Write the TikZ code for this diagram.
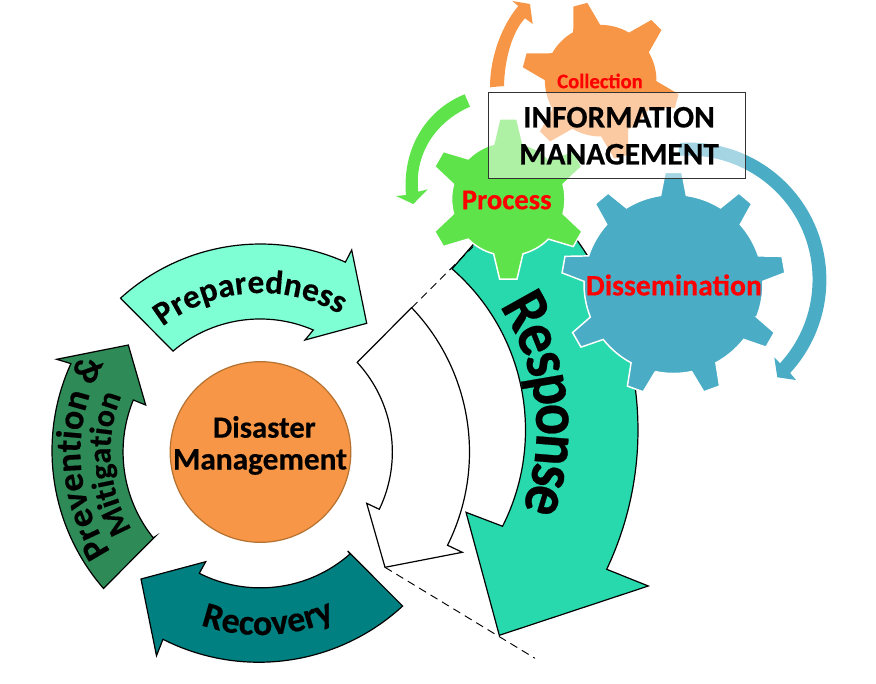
\documentclass[tikz,border=0pt]{standalone}
\usepackage{fontspec}
\setmainfont{Carlito}[BoldFeatures={FakeBold=0.4}]
\usetikzlibrary{decorations.text}
\definecolor{cPrep}{HTML}{7FFFD4}
\definecolor{cPrev}{HTML}{2E8B57}
\definecolor{cReco}{HTML}{008080}
\definecolor{cResp}{HTML}{29D9AE}
\definecolor{cOrange}{HTML}{F79646}
\definecolor{cGreen}{HTML}{5FE34A}
\definecolor{cBlue}{HTML}{4BACC6}
\definecolor{cRim}{HTML}{B5712F}
\tikzset{
  band/.style={draw=black,line width=0.9pt,line join=miter},
  gearshape/.style={draw=white,line width=1.1pt,line join=miter},
  guide/.style={draw=black,line width=0.7pt,dash pattern=on 6pt off 4pt},
  curvelabel/.style={font=\bfseries\fontsize{#1}{#1}\selectfont,text=black,inner sep=0pt},
  redlabel/.style={font=\bfseries\fontsize{#1}{#1}\selectfont,text=red,inner sep=0pt},
}
\newcommand{\prepfont}{\bfseries\fontsize{25}{28}\selectfont}
\newcommand{\recofont}{\bfseries\fontsize{27}{30}\selectfont}
\newcommand{\prevfont}{\bfseries\fontsize{27}{30}\selectfont}
\newcommand{\mitifont}{\bfseries\fontsize{24}{28}\selectfont}
\newcommand{\gearpath}[7]{% R, tip R, base half angle, tip half angle, step, first tooth, last index
  ({#6-#3}:#1) \foreach \i in {0,...,#7} {
    -- ({#6+\i*#5-#3}:#1) -- ({#6+\i*#5-#4}:#2) -- ({#6+\i*#5+#4}:#2) -- ({#6+\i*#5+#3}:#1)
    arc[start angle={#6+\i*#5+#3},end angle={#6+\i*#5+#5-#3},radius=#1]
  } -- cycle}
\newcommand{\respletter}[3]{\node[curvelabel=44,anchor=base,rotate={-(#1+90)},yscale=1.12] (#2) at (#1:224.5) {#3};}
\begin{document}
\begin{tikzpicture}[x=0.75pt,y=-0.75pt]
\useasboundingbox (0,0) rectangle (876,683);
\coordinate (dashA) at (411.7,307.7);
\coordinate (dashB) at (473,246.7);
\coordinate (dashC) at (385,567.3);
\coordinate (dashD) at (535,658.3);

% Response band
\begin{scope}[shift={(312,430)}]
\draw[band,fill=cResp] (-49:213.5) arc[start angle=-49,end angle=26.8,radius=213.5]
  -- (154,82.3) -- (187.3,205.3) -- (336.3,156) -- (294.7,139.3)
  arc[start angle=25.3,end angle=-49,radius=326] -- cycle;
\end{scope}

% ring around the centre
\begin{scope}[shift={(260.5,452)}]
\draw[band,fill=cPrep] (-132.3:208) arc[start angle=-132.3,end angle=-65.9,radius=208]
  -- (91.2,-202) -- (106.2,-128.7) -- (44.5,-112) -- (52.8,-122)
  arc[start angle=-66.6,end angle=-130.5,radius=134] -- cycle;
\draw[band,fill=cPrev] (139:208) arc[start angle=139,end angle=204.5,radius=210]
  -- (-203.8,-92.7) -- (-132.2,-107) -- (-114.8,-47) -- (-127.2,-52)
  arc[start angle=202.3,end angle=141.2,radius=137] -- (-105.5,84.7) -- cycle;
\draw[band,fill=cReco] (47.3:209.6) arc[start angle=47.3,end angle=116.9,radius=212]
  -- (-104,203.7) -- (-119.5,127) -- (-54.8,109.7) -- (-61.2,121.3)
  arc[start angle=116.8,end angle=48.6,radius=135.5] -- (87.2,99) -- cycle;
\draw[band,fill=white] (-43.7:209) arc[start angle=-43.7,end angle=26.5,radius=209]
  -- (201.8,100.3) -- (124.5,115.3) -- (106.2,51.3) -- (118.8,57.3)
  arc[start angle=25.7,end angle=-42.8,radius=132] -- cycle;
\path[decorate,decoration={text along path,text align=center,text={|\prepfont|Preparedness}}]
  (-152:159) arc[start angle=-152,end angle=-36,radius=159];
\path[decorate,decoration={text along path,text align=center,text={|\recofont|Recovery}}]
  (124:183) arc[start angle=124,end angle=51,radius=183];
\path[decorate,decoration={text along path,text align=center,text={|\prevfont|Prevention {\&}}}]
  (131:180) arc[start angle=131,end angle=225,radius=180];
\path[decorate,decoration={text along path,text align=center,text={|\mitifont|Mitigation}}]
  (124.5:150) arc[start angle=124.5,end angle=226.5,radius=150];
\end{scope}

\draw[guide] (dashA) -- (dashB);
\draw[guide] (dashC) -- (dashD);

% circular arrows
\begin{scope}[shift={(689,280)}]
\fill[cBlue] (-93.8:137.4) arc[start angle=-93.8,end angle=42.6,radius=137.4]
  -- (107,100) -- (88.3,97.3) -- (85.3,77.3) -- (91,83.3)
  arc[start angle=42.5,end angle=-95,radius=124] -- cycle;
\end{scope}
\fill[cOrange] (490,87.3) .. controls (490,55) and (503,24) .. (518.3,6)
  -- (512.3,1) -- (530,4) -- (532.7,24) -- (525,18.3)
  .. controls (512,32) and (504.5,60) .. (504,86) -- cycle;
\fill[cGreen] (464.7,94.3) .. controls (425,110) and (402,150) .. (406,195)
  -- (396,196) -- (413.3,204) -- (427.7,189.3) -- (418.3,191.7)
  .. controls (414,155) and (435,122) .. (470,106.7) -- cycle;

% gears
\begin{scope}[shift={(600.7,80.7)}]
\fill[cOrange] \gearpath{55.8}{79}{14.5}{5.2}{60}{-105}{5};
\end{scope}
\begin{scope}[shift={(508.3,199)}]
\draw[gearshape,fill=cGreen] \gearpath{56.7}{80.5}{15}{6.2}{60}{-90}{5};
\end{scope}
\begin{scope}[shift={(673.5,284)}]
\draw[gearshape,fill=cBlue] \gearpath{89.5}{112}{8.3}{4.3}{40}{-90}{8};
\end{scope}

% box
\draw[draw=black!80,line width=0.8pt,fill=white,fill opacity=0.5] (488.3,92.7) rectangle (745.3,178.3);

% Response lettering
\begin{scope}[shift={(312,430)}]
\respletter{-29.2}{rA}{R}
\respletter{-22.1}{rB}{e}
\respletter{-15.9}{rC}{s}
\respletter{-9.7}{rD}{p}
\respletter{-2.5}{rE}{o}
\respletter{4.7}{rF}{n}
\respletter{11}{rG}{s}
\respletter{16.9}{rH}{e}
\end{scope}

% centre
\node[draw=cRim,fill=cOrange,line width=0.9pt,circle,minimum size=135.5pt,inner sep=0pt] (core) at (260.5,452) {};
\node[curvelabel=23] (lblDis) at (264.3,427) {Disaster};
\node[curvelabel=23.5] (lblMan) at (260,462) {Management};
\node[redlabel=21.5] (lblProc) at (506.7,200) {Process};
\node[redlabel=22.3] (lblDiss) at (674,285) {Dissemination};
\node[redlabel=15.5] (lblColl) at (600,81) {Collection};
\node[curvelabel=23.5] (lblInfo) at (619,117.3) {INFORMATION};
\node[curvelabel=23.5] (lblMgmt) at (619,154.3) {MANAGEMENT};
\end{tikzpicture}
\end{document}
